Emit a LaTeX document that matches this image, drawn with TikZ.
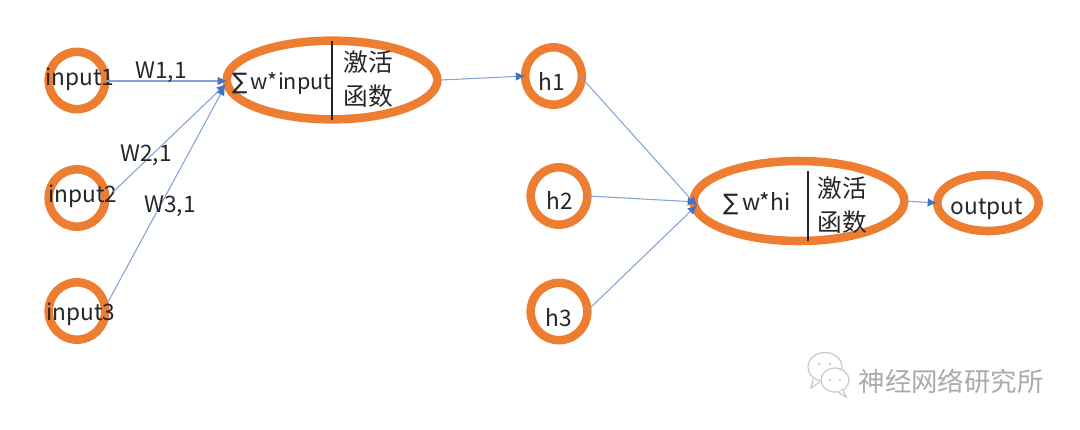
\documentclass[tikz,border=0pt]{standalone}
\usepackage{fontspec}
\setmainfont{Noto Sans CJK SC}
\newfontfamily\symf{DejaVu Sans}
\usetikzlibrary{shapes.geometric,arrows.meta}
\definecolor{ringc}{HTML}{ED7D31}
\definecolor{linkc}{HTML}{4472C4}
\definecolor{inkc}{HTML}{262626}
\definecolor{wmc}{HTML}{C8C8C8}
\newcommand{\sumsign}{{\symf\fontsize{17pt}{20pt}\selectfont ∑}}
\tikzset{
  x=0.75pt,y=-0.75pt,
  ring/.style={draw=ringc,line width=6.4pt,ellipse,inner sep=0pt,outer sep=0pt,text=inkc,font=\fontsize{17pt}{20pt}\selectfont},
  round1/.style={ring,minimum width=42.5pt,minimum height=43pt},
  plain/.style={inner sep=0pt,outer sep=0pt,text=inkc,font=\fontsize{17pt}{20pt}\selectfont},
  cjkb/.style={plain,align=center,font=\fontsize{18.5pt}{25.5pt}\selectfont},
  link/.style={draw=linkc!65,line width=0.8pt,-{Latex[length=7pt,width=6.5pt,fill=linkc,color=linkc]}},
  wmicon/.style={draw=wmc,line width=0.9pt,fill=white},
}
\begin{document}
\begin{tikzpicture}
\useasboundingbox (0,0) rectangle (1080,429);
\node[round1] (i1) at (77,80.5) {};
\node[round1] (i2) at (77,198) {};
\node[round1] (i3) at (77,311) {};
\node[ring,minimum width=158pt,minimum height=59pt] (e1) at (332,80) {};
\node[round1] (h1) at (553.5,76) {};
\node[round1] (h2) at (559,196) {};
\node[round1] (h3) at (559,311.5) {};
\node[ring,minimum width=158pt,minimum height=60pt] (e2) at (799,201) {};
\node[ring,minimum width=76pt,minimum height=42pt] (out) at (988,203) {};
\node[plain] at (80,79) {input1};
\node[plain] at (83,196) {input2};
\node[plain] at (81,314) {input3};
\node[plain] at (552,81) {h1};
\node[plain] at (560,200) {h2};
\node[plain] at (559,318) {h3};
\node[plain] at (987,209) {output};
\node[plain,anchor=west,font=\fontsize{16.2pt}{20pt}\selectfont] (s1) at (232,83) {\sumsign\,w*input};
\node[plain,anchor=west] (s2) at (723,204) {\sumsign\,w*hi};
\node[cjkb] (c1) at (368,79) {激活\\函数};
\node[cjkb] (c2) at (842,205) {激活\\函数};
\coordinate (d1a) at (332,41); \coordinate (d1b) at (332,120);
\coordinate (d2a) at (808,171); \coordinate (d2b) at (808,241);
\draw[inkc,line width=1.3pt] (d1a) -- (d1b);
\draw[inkc,line width=1.3pt] (d2a) -- (d2b);
\coordinate (t1) at (227,81);
\coordinate (t2) at (226,84);
\coordinate (t3) at (225,86);
\coordinate (f1) at (106,81);
\coordinate (f2) at (113,192);
\coordinate (f3) at (108,302);
\draw[link] (f1) -- (t1);
\draw[link] (f2) -- (t2);
\draw[link] (f3) -- (t3);
\coordinate (e1o) at (441,80);
\draw[link] (e1o) -- (h1.west);
\coordinate (u1) at (697,206);
\coordinate (u2) at (697,202);
\coordinate (u3) at (697,205);
\coordinate (g1) at (581,77);
\coordinate (g2) at (588,196);
\coordinate (g3) at (587,311);
\draw[link] (g1) -- (u1);
\draw[link] (g2) -- (u2);
\draw[link] (g3) -- (u3);
\coordinate (e2o) at (905,201);
\coordinate (oi) at (937,203);
\draw[link] (e2o) -- (oi);
\node[plain] (w1) at (161,72) {W1,1};
\node[plain] (w2) at (146,155) {W2,1};
\node[plain] (w3) at (170,206) {W3,1};
% watermark
\draw[wmicon] (825,367) ellipse (17 and 14.5);
\draw[wmicon] (813,379) -- (811,388) -- (820,382);
\draw[wmicon] (835,380) ellipse (14 and 12);
\draw[wmicon] (843,390) -- (846,397) -- (838,392);
\fill[wmc] (819,364) circle (1.3) (830,364) circle (1.3) (830,380) circle (1.2) (840,380) circle (1.2);
\node[inner sep=0pt,text=wmc!85!black,font=\fontsize{19.8pt}{22pt}\selectfont] (wm) at (951,381) {神经网络研究所};
\end{tikzpicture}
\end{document}
